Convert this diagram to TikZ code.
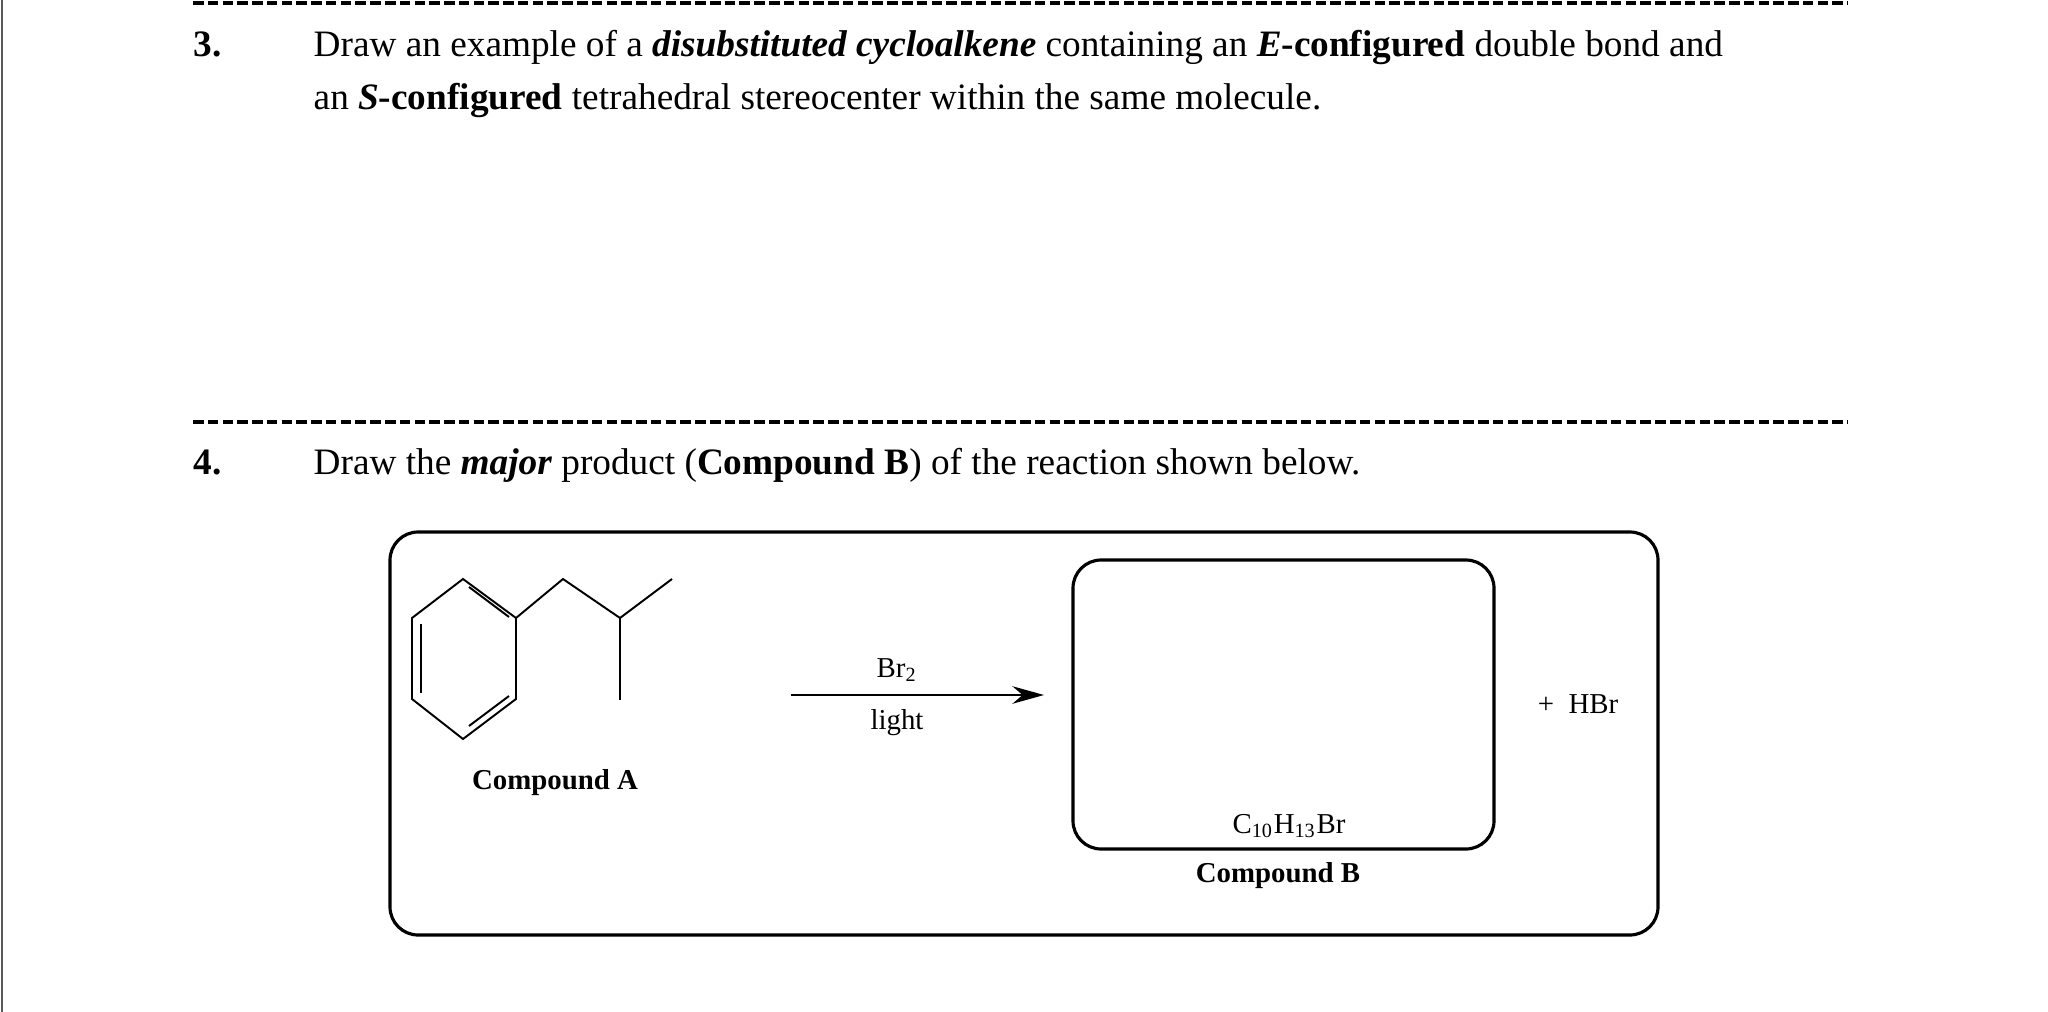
\documentclass[tikz,border=0pt]{standalone}
\usepackage{fontspec}
\setmainfont{Liberation Serif}
\usetikzlibrary{arrows.meta}
\tikzset{
  bond/.style={line width=0.55pt},
  qtext/.style={anchor=base west, inner sep=0pt, font=\fontsize{10.6}{15}\selectfont},
  lbl/.style={inner sep=0pt, font=\fontsize{8.2}{10}\selectfont},
  sep/.style={line width=0.9pt, dash pattern=on 3pt off 1.2pt}
}
\begin{document}
\begin{tikzpicture}[x=0.01cm,y=-0.01cm]
\useasboundingbox (0,0) rectangle (2048,1012);
% page edge
\draw[gray!70!black, line width=0.6pt] (2,0) -- (2,1012);
% separators
\draw[sep] (193,3) -- (1848,3);
\draw[sep] (193,422) -- (1848,422);
% question 3
\node[qtext] (n3) at (193,56) {\textbf{3.}};
\node[qtext] (q3a) at (313,56) {Draw an example of a \textbf{\textit{disubstituted cycloalkene}} containing an \textbf{\textit{E}-configured} double bond and};
\node[qtext] (q3b) at (313,110) {an \textbf{\textit{S}-configured} tetrahedral stereocenter within the same molecule.};
% question 4
\node[qtext] (n4) at (193,474) {\textbf{4.}};
\node[qtext] (q4) at (313,474) {Draw the \textbf{\textit{major}} product (\textbf{Compound B}) of the reaction shown below.};
% frames
\draw[bond, line width=0.9pt, rounded corners=8pt] (390,532) rectangle (1658,935);
\draw[bond, line width=0.9pt, rounded corners=8pt] (1073,560) rectangle (1494,849);
% compound A
\coordinate (a1) at (463,579);
\coordinate (a2) at (516,618);
\coordinate (a3) at (516,699);
\coordinate (a4) at (463,739);
\coordinate (a5) at (412,699);
\coordinate (a6) at (412,618);
\draw[bond] (a1) -- (a2) -- (a3) -- (a4) -- (a5) -- (a6) -- cycle;
\draw[bond] (469,587) -- (509,617);
\draw[bond] (509,696) -- (469,726);
\draw[bond] (421,624) -- (421,693);
\coordinate (c1) at (563,579);
\coordinate (c2) at (620,618);
\coordinate (c3) at (672,579);
\coordinate (c4) at (620,700);
\draw[bond] (a2) -- (c1) -- (c2) -- (c3);
\draw[bond] (c2) -- (c4);
\node[lbl, font=\fontsize{8.2}{10}\selectfont\bfseries] (cA) at (555,783) {Compound A};
% arrow
\coordinate (r0) at (791,695);
\coordinate (r1) at (1044,695);
\draw[bond, -{Stealth[length=9pt,width=5pt]}] (r0) -- (r1);
\node[lbl] (br) at (897,670) {Br\textsubscript{2}};
\node[lbl] (lt) at (897,723) {light};
% compound B
\node[lbl] (fm) at (1289,826) {C\textsubscript{10}H\textsubscript{13}Br};
\node[lbl, font=\fontsize{8.2}{10}\selectfont\bfseries] (cB) at (1278,876) {Compound B};
\node[lbl] (hbr) at (1578,704) {+\enspace HBr};
\end{tikzpicture}
\end{document}
